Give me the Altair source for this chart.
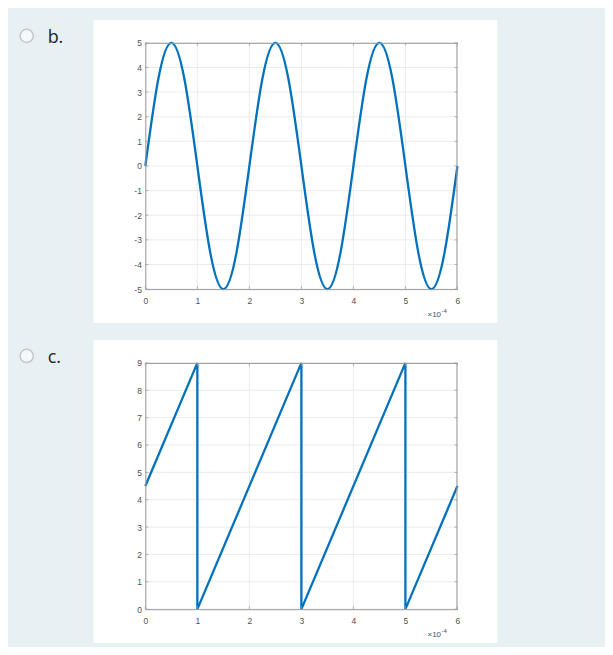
import altair as alt
import pandas as pd

# ---- data (x in units of 1e-4 s) ----
sine_t = [0, 0.25, 0.5, 0.75, 1, 1.25, 1.5, 1.75, 2, 2.25, 2.5, 2.75, 3,
          3.25, 3.5, 3.75, 4, 4.25, 4.5, 4.75, 5, 5.25, 5.5, 5.75, 6]
sine_v = [0, 3.54, 5, 3.54, 0, -3.54, -5, -3.54, 0, 3.54, 5, 3.54, 0,
          -3.54, -5, -3.54, 0, 3.54, 5, 3.54, 0, -3.54, -5, -3.54, 0]

saw_t = [0, 1, 1, 3, 3, 5, 5, 6]
saw_v = [4.5, 9, 0, 9, 0, 9, 0, 4.5]

x_ticks = [0, 1, 2, 3, 4, 5, 6]
b_y_ticks = [-5, -4, -3, -2, -1, 0, 1, 2, 3, 4, 5]
c_y_ticks = [0, 1, 2, 3, 4, 5, 6, 7, 8, 9]

W, H = 313, 247
PAGE = "#e7f1f4"
LINE = "#0072BD"
BOX = "#9a9a9a"
GRID = "#ebebeb"
LBL = "#505050"
AX_FONT = "Liberation Sans"


def panel(df, ydomain, yticks, label, interp):
    one = pd.DataFrame({"k": [0]})
    xt = pd.DataFrame({"t": x_ticks})
    yt = pd.DataFrame({"v": yticks})
    xs = alt.Scale(domain=[0, 6], nice=False, zero=False)
    ys = alt.Scale(domain=ydomain, nice=False, zero=False)
    xax = alt.Axis(values=x_ticks, title=None, grid=False, ticks=False,
                   domain=True, domainColor=BOX, labelColor=LBL,
                   labelFont=AX_FONT, labelFontSize=8.5, labelPadding=7,
                   zindex=1, labelFlush=False, labelOverlap=False,
                   labelExpr="toString(datum.value)")
    yax = alt.Axis(values=yticks, title=None, grid=False, ticks=False,
                   domain=True, domainColor=BOX, labelColor=LBL,
                   labelFont=AX_FONT, labelFontSize=8.5, labelPadding=4,
                   zindex=1, labelFlush=False, labelOverlap=False,
                   labelExpr="toString(datum.value)")
    X = lambda f: alt.X(f, scale=xs, axis=xax)
    Y = lambda f: alt.Y(f, scale=ys, axis=yax)

    card = alt.Chart(one).mark_rect(fill="white").encode(
        x=alt.value(-52), x2=alt.value(353), y=alt.value(-23), y2=alt.value(281))
    radio = alt.Chart(one).mark_point(shape="circle", size=177, filled=True,
                                      fill="#f4f8f9", stroke="#c6c6c6",
                                      strokeWidth=1.5, opacity=1).encode(
        x=alt.value(-119), y=alt.value(-7))
    lab = alt.Chart(one).mark_text(text=label, align="left", baseline="alphabetic",
                                   fontSize=18, font="Open Sans", color="#222222").encode(
        x=alt.value(-98), y=alt.value(0.5))

    gx = alt.Chart(xt).mark_rule(color=GRID, strokeWidth=1).encode(x=X("t:Q"))
    gy = alt.Chart(yt).mark_rule(color=GRID, strokeWidth=1).encode(y=Y("v:Q"))

    line = alt.Chart(df).mark_line(color=LINE, strokeWidth=2.3, interpolate=interp).encode(
        x=X("t:Q"), y=Y("v:Q"), order="i:Q")

    tb = alt.Chart(xt).mark_tick(orient="vertical", size=3, thickness=1, color=BOX).encode(
        x=X("t:Q"), y=alt.value(H - 1.5))
    tt = alt.Chart(xt).mark_tick(orient="vertical", size=3, thickness=1, color=BOX).encode(
        x=X("t:Q"), y=alt.value(1.5))
    tl = alt.Chart(yt).mark_tick(orient="horizontal", size=3, thickness=1, color=BOX).encode(
        y=Y("v:Q"), x=alt.value(1.5))
    tr = alt.Chart(yt).mark_tick(orient="horizontal", size=3, thickness=1, color=BOX).encode(
        y=Y("v:Q"), x=alt.value(W - 1.5))

    top = alt.Chart(one).mark_rule(color=BOX, strokeWidth=1).encode(
        x=alt.value(0), x2=alt.value(W), y=alt.value(0.5))
    right = alt.Chart(one).mark_rule(color=BOX, strokeWidth=1).encode(
        x=alt.value(W - 0.5), y=alt.value(0), y2=alt.value(H))

    exp1 = alt.Chart(one).mark_text(text="×10", align="left", baseline="alphabetic",
                                    fontSize=8, font=AX_FONT, color=LBL).encode(
        x=alt.value(283), y=alt.value(275))
    exp2 = alt.Chart(one).mark_text(text="-4", align="left", baseline="alphabetic",
                                    fontSize=6, font=AX_FONT, color=LBL).encode(
        x=alt.value(297), y=alt.value(271))

    return alt.layer(card, radio, lab, gx, gy, line, tb, tt, tl, tr, top, right,
                     exp1, exp2).properties(width=W, height=H)


sine_df = pd.DataFrame({"t": sine_t, "v": sine_v, "i": range(len(sine_t))})
saw_df = pd.DataFrame({"t": saw_t, "v": saw_v, "i": range(len(saw_t))})

pb = panel(sine_df, [-5, 5], b_y_ticks, "b.", "natural")
pc = panel(saw_df, [0, 9], c_y_ticks, "c.", "linear")

chart = alt.vconcat(pb, pc, spacing=17).properties(
    background=PAGE,
    padding={"left": 8.75, "top": 11, "right": 108, "bottom": 3},
).configure_view(stroke=None)

chart.save("out.html", embed_options={"renderer": "svg", "actions": False})
